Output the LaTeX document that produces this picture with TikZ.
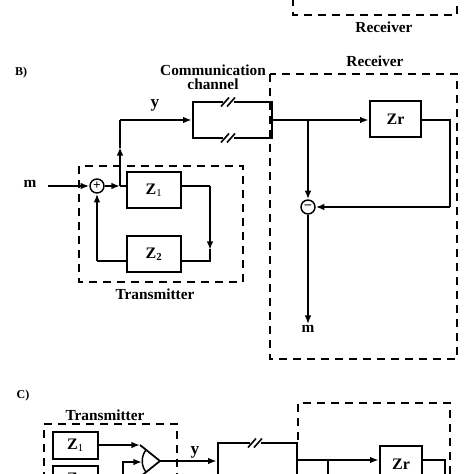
\documentclass[tikz,border=0pt]{standalone}
\usepackage{amsmath}
\usepackage{xcolor}
\usepackage{fontspec}
\setmainfont{Liberation Serif}
\usetikzlibrary{arrows.meta}

\tikzset{
  blk/.style={draw, line width=2pt, inner sep=0pt, font=\fontsize{12}{12}\selectfont\bfseries},
  sumc/.style={draw, circle, line width=1.1pt, minimum size=10.5pt, inner sep=0pt},
  lbl/.style={inner sep=0.75pt, font=\fontsize{11.5}{10.5}\selectfont\bfseries, align=center},
  frame/.style={line width=1.1pt, dash pattern=on 6pt off 4.5pt},
  wire/.style={line width=1.5pt},
  sig/.style={line width=1.5pt, -{Latex[length=6.5pt,width=5pt]}},
}

\begin{document}
\begin{tikzpicture}[x=0.75pt,y=0.75pt,yscale=-1,xscale=1]

\useasboundingbox (0,0) rectangle (474,474);

\draw[frame] (293,-2) -- (293,15) -- (457,15) -- (457,-2) ;
\node[lbl] (recA) at (384,27) {Receiver};

\node[lbl, font=\fontsize{9}{9}\selectfont\bfseries] (labB) at (21,73) {B)};
\node[lbl] (chanlbl) at (213,77) {Communication\\channel};
\node[blk, minimum width=59.25pt, minimum height=27pt] (chan) at (232.5,120) {};
\draw[white, line width=3pt] (223,102) -- (234,102) (223,138) -- (234,138) ;
\draw[wire, line width=1.2pt] (221,106.5) -- (229,97.5) (227,106.5) -- (235,97.5) ;
\draw[wire, line width=1.2pt] (221,142.5) -- (229,133.5) (227,142.5) -- (235,133.5) ;

\node[lbl] (m) at (30,184) {m};
\coordinate (min) at (48,186);
\node[sumc] (s1) at (97,186) {\textbf{+}};
\node[blk, minimum width=40.5pt, minimum height=27pt] (z1) at (154,190) {Z\textsubscript{\mdseries 1}};
\node[blk, minimum width=40.5pt, minimum height=27pt] (z2) at (154,254) {Z\textsubscript{2}};
\coordinate (j1) at (120,186);
\coordinate (c1) at (120,120);
\coordinate (r1) at (210,186);
\coordinate (r2) at (210,261);
\coordinate (l2) at (97,261);

\draw[sig] (min) -- (s1) ;
\draw[sig] (s1) -- (j1) ;
\draw[wire] (j1) -- (z1.west |- j1) ;
\draw[sig] (j1) -- (120,147) ;
\draw[wire] (120,148) -- (c1) ;
\draw[sig] (c1) -- (chan.west) ;
\node[lbl, font=\fontsize{13}{13}\selectfont\bfseries] (y) at (155,105) {y};
\draw[wire] (z1.east |- r1) -- (r1) ;
\draw[sig] (r1) -- (210,250) ;
\draw[wire] (210,249) -- (r2) -- (z2.east |- r2) ;
\draw[wire] (z2.west |- r2) -- (l2) ;
\draw[sig] (l2) -- (s1.south) ;

\draw[frame] (79,166) rectangle (243,282) ;
\node[lbl] (tx) at (155,294) {Transmitter};

\draw[frame] (270,74) rectangle (457,359) ;
\node[lbl] (rx) at (375,61) {Receiver};
\node[blk, minimum width=38.25pt, minimum height=27pt] (zr) at (395.5,119) {Zr};
\node[sumc] (s2) at (308,207) {\textbf{--}};
\coordinate (j2) at (308,120);
\coordinate (r3) at (450,120);
\coordinate (r4) at (450,207);
\node[lbl] (mout) at (308,329) {m};

\draw[wire] (chan.east) -- (j2) ;
\draw[sig] (j2) -- (zr.west |- j2) ;
\draw[sig] (j2) -- (s2.north) ;
\draw[wire] (zr.east |- r3) -- (r3) -- (r4) ;
\draw[sig] (r4) -- (s2.east) ;
\draw[sig] (s2.south) -- (mout.north) ;

\node[lbl, font=\fontsize{9}{9}\selectfont\bfseries] (labC) at (23,396) {C)};
\node[lbl] (txC) at (105,415) {Transmitter};
\draw[frame] (44,480) -- (44,424) -- (177,424) -- (177,480) ;
\node[blk, minimum width=33.75pt, minimum height=20.25pt] (z1c) at (75.5,445.5) {Z\textsubscript{\mdseries 1}};
\node[blk, minimum width=33.75pt, minimum height=20.25pt] (z2c) at (75.5,479.5) {Z\textsubscript{2}};

\coordinate (k1) at (140,445);
\coordinate (k2) at (160,461);
\coordinate (k3) at (123,462);
\draw[sig] (z1c.east |- k1) -- (k1) ;
\draw[wire, line width=1.3pt] (k1) -- (k2) -- (140,477) ;
\draw[wire, line width=1.1pt] (146,450) .. controls (141,456) and (141,466) .. (146,472) ;
\draw[sig] (123,480) -- (k3) -- (142,462) ;

\node[blk, minimum width=59.25pt, minimum height=27pt] (chanc) at (257.5,461) {};
\draw[white, line width=3pt] (250,443) -- (261,443) ;
\draw[wire, line width=1.2pt] (248,447.5) -- (256,438.5) (254,447.5) -- (262,438.5) ;
\draw[sig] (k2) -- (chanc.west) ;
\node[lbl, font=\fontsize{13}{13}\selectfont\bfseries] (yc) at (195,452) {y};

\draw[frame] (298,440) -- (298,403) -- (450,403) -- (450,480) ;
\node[blk, minimum width=31.5pt, minimum height=27pt] (zrc) at (401,464) {Zr};
\coordinate (j3) at (328,460);
\coordinate (r5) at (445,460);
\draw[sig] (chanc.east |- j3) -- (zrc.west |- j3) ;
\draw[wire] (j3) -- (328,480) ;
\draw[wire] (zrc.east |- r5) -- (r5) -- (445,480) ;

\end{tikzpicture}
\end{document}
